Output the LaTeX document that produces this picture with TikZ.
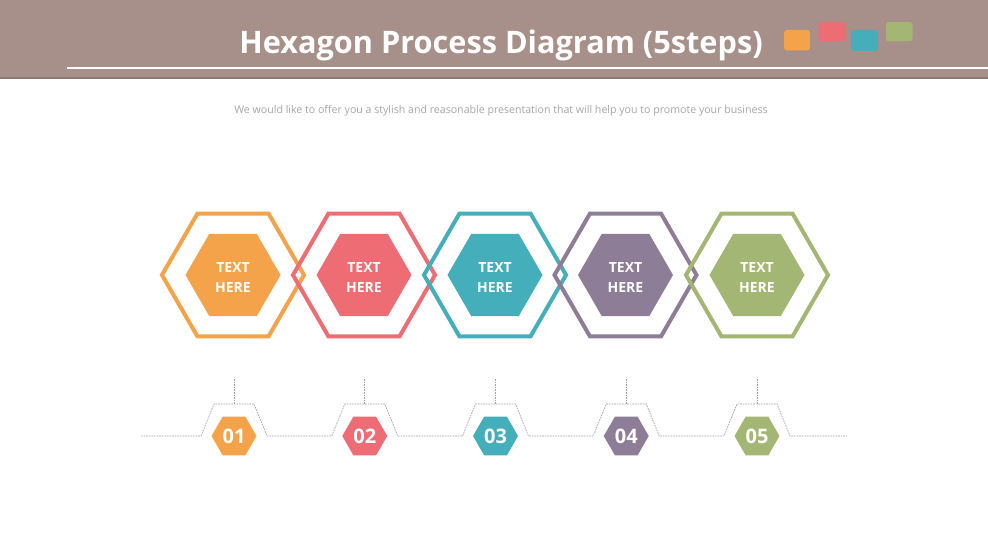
\documentclass[tikz,border=0pt]{standalone}
\usepackage{fontspec}
\setmainfont{Open Sans}
\usetikzlibrary{shapes.geometric}
\definecolor{band}{HTML}{A69089}
\definecolor{cA}{HTML}{F5A34A}
\definecolor{cB}{HTML}{EE6D74}
\definecolor{cC}{HTML}{45AEBB}
\definecolor{cD}{HTML}{8D7D97}
\definecolor{cE}{HTML}{A3B673}
\definecolor{subgray}{HTML}{A6A6A6}
\definecolor{dashgray}{HTML}{A0A0A0}
\tikzset{
  outerhex/.style={regular polygon, regular polygon sides=6, minimum size=142pt, inner sep=0pt, line width=4pt, draw=#1},
  innerhex/.style={regular polygon, regular polygon sides=6, minimum size=95pt, inner sep=0pt, fill=#1},
  hextext/.style={inner sep=0pt, text=white, font=\bfseries\fontsize{14}{20}\selectfont, align=center},
  numhex/.style={regular polygon, regular polygon sides=6, minimum size=45pt, inner sep=0pt, fill=#1, text=white, font=\bfseries\fontsize{20}{20}\selectfont},
  dashline/.style={draw=dashgray, line width=0.7pt, dash pattern=on 1.6pt off 1pt},
  tag/.style={rounded corners=3pt}
}
\begin{document}
\begin{tikzpicture}[x=1pt,y=-1pt]
\useasboundingbox (0,0) rectangle (988,556);
\fill[white] (0,0) rectangle (988,556);
% header band
\fill[band] (0,0) rectangle (988,78);
\fill[band!85!black] (0,77.5) rectangle (988,79);
\draw[white, line width=2pt] (67,68) -- (988,68);
\node[anchor=base, text=white, font=\bfseries\fontsize{31}{31}\selectfont, inner sep=0pt] (title) at (501,54) {\scalebox{0.99}[1]{Hexagon Process Diagram (5steps)}};
% colored tags
\fill[cA, tag] (784,30) rectangle (810,50.5);
\fill[cB, tag] (818.5,22) rectangle (845.5,41.5);
\fill[cC, tag] (851,30) rectangle (878,51);
\fill[cE, tag] (886,22) rectangle (912.5,41.5);
% subtitle
\node[anchor=base, text=subgray, font=\fontsize{10.6}{12}\selectfont, inner sep=0pt] (sub) at (501,114) {We would like to offer you a stylish and reasonable presentation that will help you to promote your business};
% big hexagons
\foreach \i/\x/\c in {1/233/cA, 2/364/cB, 3/495/cC, 4/625.5/cD, 5/757/cE} {
  \node[outerhex=\c] (o\i) at (\x,275) {};
  \node[innerhex=\c] (h\i) at (\x,275) {};
  \node[hextext] (t\i) at ([yshift=-3pt]h\i.center) {TEXT\\HERE};
}
% bottom dashed track
\foreach \i/\x in {1/234, 2/364.75, 3/495.5, 4/626.25, 5/757} {
  \coordinate (bl\i) at (\x-33,436);
  \coordinate (tl\i) at (\x-20,404);
  \coordinate (tr\i) at (\x+20,404);
  \coordinate (br\i) at (\x+33,436);
  \coordinate (tm\i) at (\x,404);
  \coordinate (vt\i) at (\x,379);
}
\coordinate (start) at (141,436);
\coordinate (end) at (847,436);
\draw[dashline] (start) -- (bl1) -- (tl1) -- (tr1) -- (br1)
  -- (bl2) -- (tl2) -- (tr2) -- (br2)
  -- (bl3) -- (tl3) -- (tr3) -- (br3)
  -- (bl4) -- (tl4) -- (tr4) -- (br4)
  -- (bl5) -- (tl5) -- (tr5) -- (br5) -- (end);
\foreach \i in {1,...,5} { \draw[dashline] (vt\i) -- (tm\i); }
% number hexagons
\foreach \i/\x/\c/\n in {1/234/cA/01, 2/364.75/cB/02, 3/495.5/cC/03, 4/626.25/cD/04, 5/757/cE/05} {
  \node[numhex=\c] (n\i) at (\x,436) {\n};
}
\end{tikzpicture}
\end{document}
